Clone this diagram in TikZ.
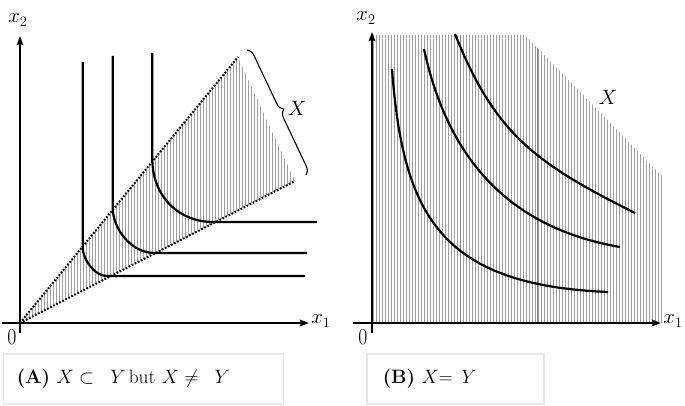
\documentclass[tikz,border=0pt]{standalone}
\usetikzlibrary{arrows.meta,decorations.pathreplacing}
\newcommand{\mysz}{\fontsize{17.28}{18}\selectfont}
\newcommand{\mybig}{\fontsize{20.74}{21}\selectfont}
\begin{document}
\begin{tikzpicture}[x=1pt,y=-1pt,
  axis/.style={line width=2pt,-{Stealth[length=9pt,width=6.5pt,inset=1pt]}},
  iso/.style={line width=2.2pt},
  ray/.style={line width=2pt, dash pattern=on 1.7pt off 1.7pt},
  hatch/.style={gray!75, line width=0.6pt},
  darkhatch/.style={gray, line width=0.7pt},
  lbl/.style={inner sep=0pt, font=\mybig},
  biglbl/.style={inner sep=0pt, font=\mybig},
  capbox/.style={draw=gray!18, line width=1.5pt, anchor=north west, inner ysep=0pt,
    minimum height=50pt, align=left, font=\mysz},
  ]
\useasboundingbox (0,0) rectangle (685,406);

% ---------- left panel ----------
\coordinate (O1) at (20,323);
\coordinate (A1) at (238,57);
\coordinate (B1) at (295,181);
\begin{scope}
  \clip (O1) -- (A1) -- (B1) -- cycle;
  \foreach \x in {20,23,...,296} \draw[hatch] (\x,40) -- (\x,330);
\end{scope}
\draw[ray] (O1) -- (A1);
\draw[ray] (O1) -- (B1);

\draw[iso] (82.7,62) -- (82.7,248) .. controls (83,260) and (95,276) .. (106.7,276) -- (305,276);
\draw[iso] (112.7,56) -- (112.7,208) .. controls (113,228) and (130,253) .. (155,253) -- (307,253);
\draw[iso] (152.3,53) -- (152.3,160) .. controls (153,198) and (180,222) .. (213,222) -- (317,222);

\coordinate (Ybot1) at (20,333);
\coordinate (Ytip1) at (20,36);
\coordinate (Xbot1) at (2,323);
\coordinate (Xtip1) at (309,323);
\draw[axis] (Ybot1) -- (Ytip1);
\draw[axis] (Xbot1) -- (Xtip1);
\node[lbl] (x2a) at (18,20) {$x_2$};
\node[lbl] (x1a) at (321,321) {$x_1$};
\node[biglbl] (zeroa) at (12,337) {\scalebox{0.95}[1.1]{0}};

\coordinate (BrA) at (247,50);
\coordinate (BrB) at (306,175);
\draw[line width=1.1pt, decorate, decoration={brace, amplitude=8pt}] (BrA) -- (BrB);
\node[biglbl] (XA) at (297,108) {$X$};

% ---------- right panel ----------
\begin{scope}
  \clip (372,323) -- (372,35) -- (525,35) -- (663,177) -- (663,323) -- cycle;
  \foreach \x in {373,376,...,664} \draw[hatch] (\x,30) -- (\x,330);
  \draw[darkhatch] (460,30) -- (460,330);
  \draw[darkhatch] (537,30) -- (537,330);
\end{scope}

\draw[iso] (392,69) .. controls (403,215) and (440,285) .. (608,292);
\draw[iso] (424,49) .. controls (448,160) and (510,228) .. (620,247);
\draw[iso] (455,34) .. controls (495,134) and (535,163) .. (635,213);

\coordinate (Ybot2) at (372,333);
\coordinate (Ytip2) at (372,32);
\coordinate (Xbot2) at (353,323);
\coordinate (Xtip2) at (661,323);
\draw[axis] (Ybot2) -- (Ytip2);
\draw[axis] (Xbot2) -- (Xtip2);
\node[lbl] (x2b) at (366,18) {$x_2$};
\node[lbl] (x1b) at (673,321) {$x_1$};
\node[biglbl] (zerob) at (363,337) {\scalebox{0.95}[1.1]{0}};
\node[biglbl] (XB) at (608,97) {$X$};

% ---------- captions ----------
\node[capbox, inner xsep=13.5pt, text width=253pt] (capA) at (2.5,353)
  {\scalebox{1.12}{\textbf{(A)} $X \subset\;\; Y$\,but $X \neq\;\; Y$}};
\node[capbox, inner xsep=16pt, text width=145pt] (capB) at (366,353)
  {\scalebox{1.12}{\textbf{(B)} $X{=}\;\, Y$}};
\end{tikzpicture}
\end{document}
